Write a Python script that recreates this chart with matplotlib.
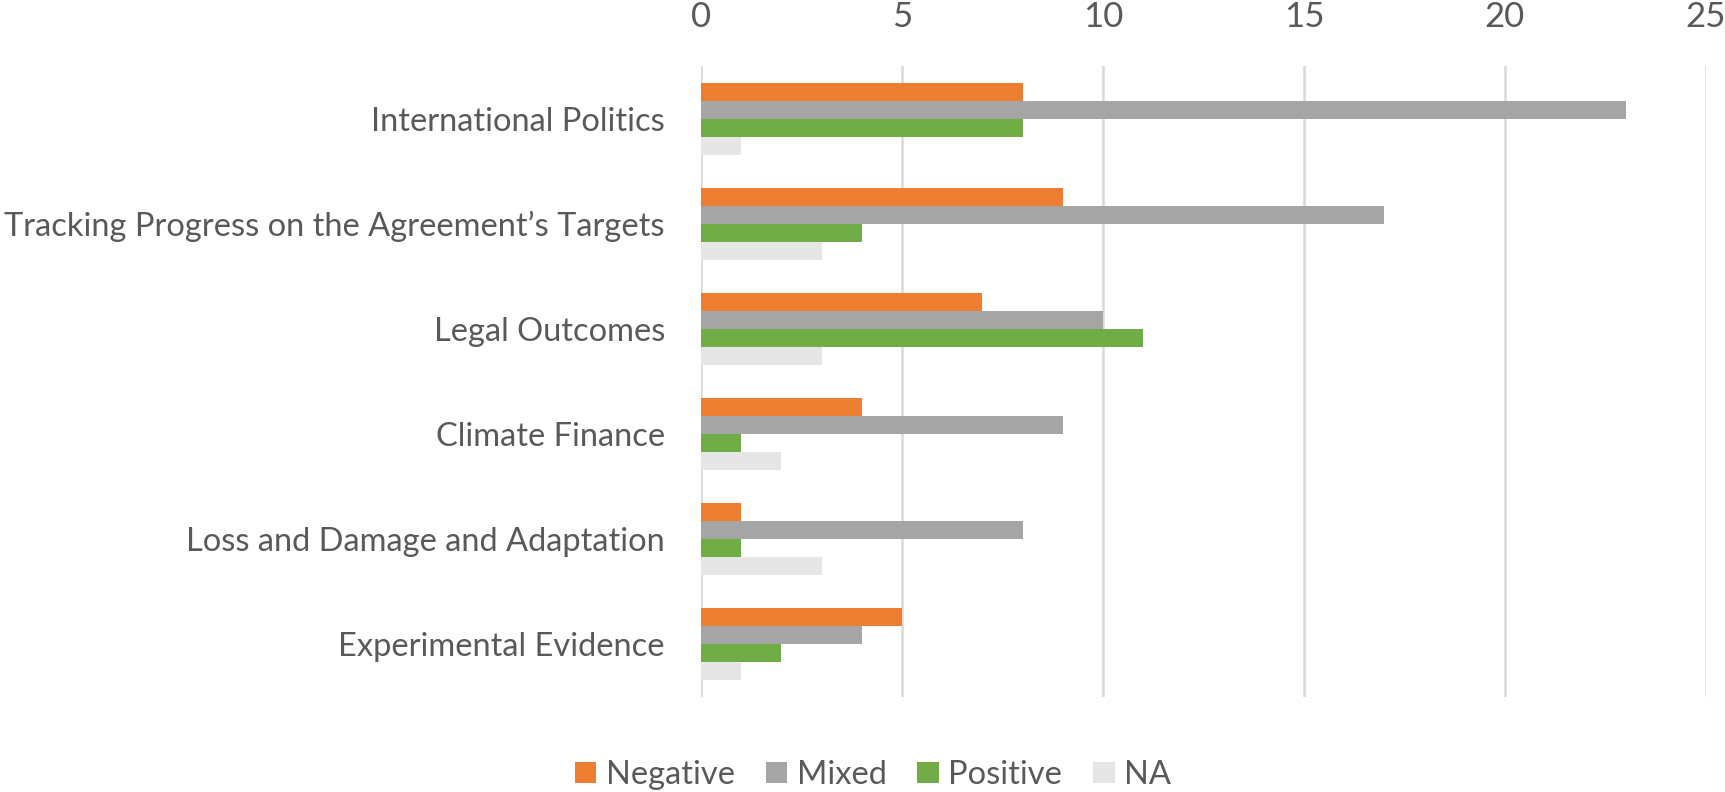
import matplotlib
matplotlib.use("Agg")
import matplotlib.pyplot as plt
import numpy as np
from matplotlib.patches import Patch

categories = [
    "International Politics",
    "Tracking Progress on the Agreement\u2019s Targets",
    "Legal Outcomes",
    "Climate Finance",
    "Loss and Damage and Adaptation",
    "Experimental Evidence",
]
series_names = ["Negative", "Mixed", "Positive", "NA"]
negative = [8, 9, 7, 4, 1, 5]
mixed = [23, 17, 10, 9, 8, 4]
positive = [8, 4, 11, 1, 1, 2]
na = [1, 3, 3, 2, 3, 1]
x_ticks = [0, 5, 10, 15, 20, 25]

colors = ["#ED7D31", "#A5A5A5", "#70AD47", "#E7E6E6"]
text_color = "#595959"

plt.rcParams['font.family'] = ['Lato', 'DejaVu Sans']

fig = plt.figure(figsize=(17.25, 7.92), dpi=100)

# fit label font size so the longest label spans ~662 px like the reference
renderer = fig.canvas.get_renderer()
t = fig.text(0, 0, categories[1], fontsize=25)
w = t.get_window_extent(renderer).width
t.remove()
label_fs = 25 * 662 / w

ax = fig.add_axes([701/1725, 1-697/792, (1706-701)/1725, (697-66)/792])

y = np.arange(len(categories))
h = 0.686 / 4
data = [negative, mixed, positive, na]
for k, (vals, c, name) in enumerate(zip(data, colors, series_names)):
    ax.barh(y + (k - 1.5) * h, vals, height=h, color=c, label=name, zorder=3)

ax.set_ylim(len(categories) - 0.5, -0.5)
ax.set_xlim(0, 25)
ax.set_xticks(x_ticks)
ax.set_yticks(y)
ax.set_yticklabels(categories)
ax.xaxis.tick_top()
ax.tick_params(axis='both', length=0, colors=text_color)
ax.tick_params(axis='y', pad=26, labelsize=label_fs)
ax.tick_params(axis='x', pad=24, labelsize=25)
for s in ax.spines.values():
    s.set_visible(False)
ax.grid(axis='x', color='#D9D9D9', linewidth=1.8, zorder=0)
ax.set_axisbelow(True)

handles = [Patch(facecolor=c, label=n) for c, n in zip(colors, series_names)]
fig.legend(handles=handles, loc='center', bbox_to_anchor=(873/1725, 1-775/792),
           ncol=4, frameon=False, fontsize=label_fs, labelcolor=text_color,
           handlelength=0.65, handleheight=0.65, handletextpad=0.3, columnspacing=0.95)

fig.savefig("out.png", dpi=100)
